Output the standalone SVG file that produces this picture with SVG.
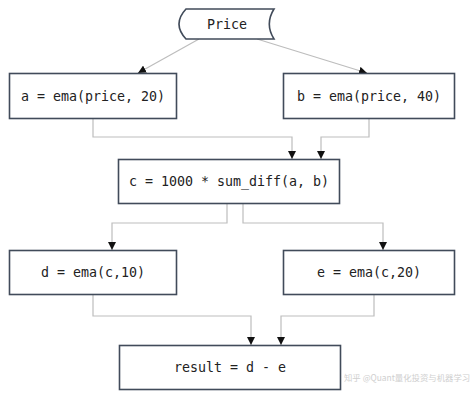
<svg xmlns="http://www.w3.org/2000/svg" width="474" height="401" viewBox="0 0 474 401">
<defs>
<marker id="arr" viewBox="0 0 8 8" markerWidth="8" markerHeight="8" refX="8" refY="4" orient="auto" markerUnits="userSpaceOnUse">
<path d="M0,0 L8,4 L0,8 Z" fill="#111"/>
</marker>
<style>
.box{fill:#fff;stroke:#414b5a;stroke-width:1.6}
.lbl{font-family:"DejaVu Sans Mono","Liberation Mono",monospace;font-size:13.3px;fill:#222;text-anchor:middle}
.con{fill:none;stroke:#bdbdbd;stroke-width:1.2;marker-end:url(#arr)}
.wm{font-family:"Noto Sans CJK SC","Noto Sans",sans-serif;font-size:8.4px;fill:#c8c8c8;opacity:0.85}
</style>
</defs>
<rect width="474" height="401" fill="#fff"/>
<g id="connectors">
<path class="con" d="M199,39 L138,73"/>
<path class="con" d="M257,39 L367,73"/>
<path class="con" d="M93,119 V137 H292 V159"/>
<path class="con" d="M369,119 V137 H321 V159"/>
<path class="con" d="M227,204 V223 H112 V250"/>
<path class="con" d="M243,204 V223 H383 V250"/>
<path class="con" d="M93,295 V316 H251 V345"/>
<path class="con" d="M374,295 V316 H281 V345"/>
</g>
<g id="price">
<path class="box" d="M186,9 L274,9 Q264.6,24 274,39 L186,39 Q172,24 186,9 Z"/>
<text class="lbl" x="227" y="28.5">Price</text>
</g>
<g id="a">
<rect class="box" x="9.5" y="73.5" width="167" height="45"/>
<text class="lbl" x="93" y="101">a = ema(price, 20)</text>
</g>
<g id="b">
<rect class="box" x="283.5" y="73.5" width="171" height="45"/>
<text class="lbl" x="369" y="101">b = ema(price, 40)</text>
</g>
<g id="c">
<rect class="box" x="118.5" y="159.5" width="221" height="44"/>
<text class="lbl" x="229" y="186">c = 1000 * sum_diff(a, b)</text>
</g>
<g id="d">
<rect class="box" x="9.5" y="250.5" width="167" height="44"/>
<text class="lbl" x="93" y="277">d = ema(c,10)</text>
</g>
<g id="e">
<rect class="box" x="283.5" y="250.5" width="171" height="44"/>
<text class="lbl" x="369" y="277">e = ema(c,20)</text>
</g>
<g id="result">
<rect class="box" x="119.5" y="345.5" width="221" height="44"/>
<text class="lbl" x="230" y="372">result = d - e</text>
</g>
<text class="wm" x="344" y="381">知乎 @Quant量化投资与机器学习</text>
</svg>
